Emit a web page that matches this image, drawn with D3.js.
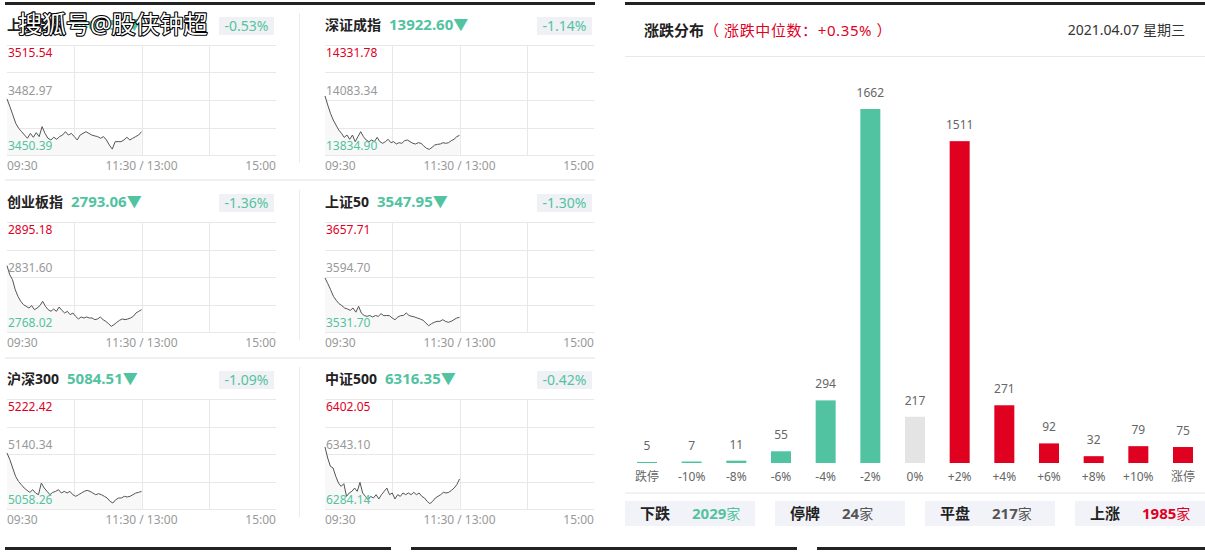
<!DOCTYPE html>
<html>
<head>
<meta charset="utf-8">
<script src="https://cdn.jsdelivr.net/npm/d3@7"></script>
<style>
body{margin:0;background:#fff;}
svg{display:block;font-family:"Microsoft YaHei","Noto Sans","Noto Sans CJK SC",sans-serif;}
</style>
</head>
<body>
<div class="canvas"></div>
<script>
// MOCK DATA - index cards
const indexNames = ["上证指数","深证成指","创业板指","上证50","沪深300","中证500"];
const lastPrices = ["3464.51","13922.60","2793.06","3547.95","5084.51","6316.35"];
const changePcts = ["-0.53%","-1.14%","-1.36%","-1.30%","-1.09%","-0.42%"];
const highLabels = [3515.54, 14331.78, 2895.18, 3657.71, 5222.42, 6402.05];
const prevCloses = [3482.97, 14083.34, 2831.60, 3594.70, 5140.34, 6343.10];
const lowLabels  = [3450.39, 13834.90, 2768.02, 3531.70, 5058.26, 6284.14];
const timeLabels = ["09:30","11:30 / 13:00","15:00"];

// morning session (09:30 -> 11:30)
const shSeries = [3483.6,3479.0,3474.1,3469.1,3466.2,3464.2,3462.2,3460.3,3463.2,3460.9,3463.6,3461.3,3467.2,3463.2,3460.3,3459.3,3460.9,3459.7,3461.3,3462.2,3464.2,3462.2,3463.2,3461.3,3459.3,3462.2,3463.2,3464.2,3463.2,3462.2,3461.7,3461.3,3460.3,3461.3,3459.3,3456.3,3453.9,3458.3,3458.3,3458.3,3459.3,3460.9,3459.3,3460.3,3461.3,3462.2,3464.2];
const szSeries = [14101.4,14060.8,14023.1,13993.0,13970.4,13947.8,13932.8,13914.7,13925.2,13905.7,13925.2,13895.1,13917.7,13940.3,13917.7,13902.6,13895.1,13902.6,13895.1,13914.7,13895.1,13887.6,13895.1,13905.7,13890.6,13895.1,13884.6,13890.6,13887.6,13899.6,13902.6,13895.1,13887.6,13884.6,13890.6,13887.6,13875.5,13865.0,13860.5,13869.5,13880.1,13883.1,13884.6,13890.6,13887.6,13890.6,13899.6,13905.7,13917.7,13923.7];
const cybSeries = [2844.7,2834.3,2828.5,2816.9,2809.2,2803.5,2799.6,2797.7,2795.8,2798.5,2793.8,2795.8,2798.5,2803.5,2797.7,2793.8,2791.9,2794.6,2791.9,2796.9,2793.1,2790.0,2791.9,2788.1,2790.0,2786.1,2783.1,2785.4,2784.2,2785.4,2784.2,2784.2,2782.3,2783.1,2785.4,2782.3,2780.3,2777.6,2774.6,2776.5,2779.2,2781.5,2783.1,2782.3,2783.1,2784.2,2786.1,2790.0,2791.9,2793.8];
const sz50Series = [3593.6,3587.1,3580.2,3572.6,3568.0,3564.2,3561.9,3559.2,3558.1,3556.5,3559.2,3554.4,3561.1,3553.2,3550.6,3549.6,3550.6,3548.9,3550.6,3549.6,3552.7,3550.4,3550.6,3550.4,3547.7,3545.8,3548.9,3550.4,3550.6,3553.5,3550.6,3549.6,3548.9,3547.7,3546.6,3545.1,3542.0,3538.9,3541.2,3542.8,3543.9,3543.9,3545.8,3543.9,3542.8,3543.9,3545.8,3547.7,3548.5];
const hs300Series = [5141.8,5131.9,5119.4,5107.0,5099.5,5094.6,5089.6,5086.1,5083.1,5087.1,5082.1,5079.6,5097.0,5089.6,5084.6,5079.6,5083.1,5084.6,5087.1,5082.1,5084.6,5082.1,5084.6,5079.6,5077.2,5079.6,5082.1,5084.6,5086.1,5084.6,5082.1,5079.6,5081.1,5079.6,5077.2,5074.7,5069.7,5067.2,5072.2,5074.7,5074.7,5077.2,5076.2,5077.2,5079.6,5082.1,5083.1,5084.6];
const zz500Series = [6350.6,6338.8,6329.9,6328.1,6319.2,6312.0,6308.4,6311.3,6297.7,6301.3,6303.1,6306.6,6303.1,6312.7,6301.3,6297.7,6294.1,6297.7,6295.9,6299.5,6294.9,6299.5,6303.1,6306.6,6299.5,6301.3,6294.9,6299.5,6297.7,6301.3,6299.5,6301.3,6299.5,6302.0,6299.5,6301.3,6297.7,6295.9,6292.3,6289.9,6292.3,6295.9,6297.7,6299.5,6302.0,6301.3,6302.0,6304.1,6306.6,6310.2,6316.3];
const allSeries = [shSeries, szSeries, cybSeries, sz50Series, hs300Series, zz500Series];

// MOCK DATA - rise/fall distribution
const distCats = ["跌停","-10%","-8%","-6%","-4%","-2%","0%","+2%","+4%","+6%","+8%","+10%","涨停"];
const distValues = [5,7,11,55,294,1662,217,1511,271,92,32,79,75];
const summaryLabels = ["下跌","停牌","平盘","上涨"];
const summaryValues = ["2029","24","217","1985"];
const medianText = "（ 涨跌中位数：+0.35% ）";
const dateText = "2021.04.07 星期三";

const GREEN = "#52c3a1", RED = "#e0001f", GREY_BAR = "#e4e4e4";

const svg = d3.select(".canvas")
.append("svg")
.attr("width", 1205)
.attr("height", 552);

// black rules top / bottom
[[5,595],[625,1205]].forEach(s=>{
    svg.append("rect").attr("x",s[0]).attr("y",2).attr("width",s[1]-s[0]).attr("height",3).attr("fill","#222");
});
[[5,391],[411,797],[817,1205]].forEach(s=>{
    svg.append("rect").attr("x",s[0]).attr("y",547).attr("width",s[1]-s[0]).attr("height",3).attr("fill","#222");
});

// LEFT: six mini index charts
const colX = [7, 325];
const rowTop = [45, 222, 399];
const cw = 269, ch = 110;

// row separators
[180, 358].forEach(yy=>{
    svg.append("line").attr("x1",5).attr("x2",595).attr("y1",yy).attr("y2",yy)
    .attr("stroke","#f0f0f0").attr("stroke-width",2);
});

rowTop.forEach(t=>{
    svg.append("line").attr("x1",299.5).attr("x2",299.5).attr("y1",t-32).attr("y2",t+118)
    .attr("stroke","#ececec");
});

const miniChart = (i) => {
    const x0 = colX[i % 2], top = rowTop[Math.floor(i / 2)];
    const g = svg.append("g");
    const x = d3.scaleLinear().domain([0, 240]).range([x0, x0 + cw]);
    const y = d3.scaleLinear().domain([lowLabels[i], highLabels[i]]).range([top + ch, top]);

    const gridVals = d3.range(5).map(k => lowLabels[i] + (highLabels[i] - lowLabels[i]) * k / 4);
    g.selectAll(".hg").data(gridVals).enter().append("line")
        .attr("x1", x(0)).attr("x2", x(240))
        .attr("y1", d => Math.round(y(d)) + 0.5).attr("y2", d => Math.round(y(d)) + 0.5)
        .attr("stroke", "#e8e8e8");
    g.selectAll(".vg").data([60, 120, 180]).enter().append("line")
        .attr("x1", d => Math.round(x(d)) + 0.5).attr("x2", d => Math.round(x(d)) + 0.5)
        .attr("y1", top).attr("y2", top + ch)
        .attr("stroke", "#e8e8e8");

    const series = allSeries[i];
    const tx = d => x(d * 120 / (series.length - 1));
    g.append("path").datum(series)
        .attr("d", d3.area().x((d, k) => tx(k)).y0(top + ch).y1(d => y(d)))
        .attr("fill", "#f8f8f8");
    g.append("path").datum(series)
        .attr("d", d3.line().x((d, k) => tx(k)).y(d => y(d)))
        .attr("fill", "none").attr("stroke", "#555").attr("stroke-width", 1);

    // price labels
    g.append("text").attr("x", x0 + 1).attr("y", y(highLabels[i]) + 12)
        .attr("font-size", 12).attr("fill", RED).text(highLabels[i].toFixed(2));
    g.append("text").attr("x", x0 + 1).attr("y", y(prevCloses[i]) - 5)
        .attr("font-size", 12).attr("fill", "#999").text(prevCloses[i].toFixed(2));
    g.append("text").attr("x", x0 + 1).attr("y", y(lowLabels[i]) - 5)
        .attr("font-size", 12).attr("fill", GREEN).text(lowLabels[i].toFixed(2));

    // time labels
    g.selectAll(".tl").data(timeLabels).enter().append("text")
        .attr("x", (d, k) => x(k * 120))
        .attr("y", top + ch + 15)
        .attr("text-anchor", (d, k) => ["start", "middle", "end"][k])
        .attr("font-size", 12).attr("fill", "#999").text(d => d);

    // header
    const head = g.append("text").attr("x", x0).attr("y", top - 15).attr("font-size", 14);
    head.append("tspan").attr("font-weight", "bold").attr("fill", "#222").text(indexNames[i]);
    head.append("tspan").attr("dx", 8).attr("font-weight", "bold").attr("font-size", 15)
        .attr("fill", GREEN).text(lastPrices[i] + "▼");

    const bx = x0 + cw - 57;
    g.append("rect").attr("x", bx).attr("y", top - 28).attr("width", 55).attr("height", 18)
        .attr("fill", "#f0f1f4");
    g.append("text").attr("x", bx + 27.5).attr("y", top - 14).attr("text-anchor", "middle")
        .attr("font-size", 14).attr("fill", GREEN).text(changePcts[i]);
};
indexNames.forEach((d, i) => miniChart(i));

// watermark
svg.append("text").attr("x", 18).attr("y", 33)
    .attr("font-size", 24).attr("fill", "#fff").attr("stroke", "#000").attr("stroke-width", 2.2)
    .attr("paint-order", "stroke").attr("stroke-linejoin", "round")
    .text("搜狐号@股侠钟超");

// RIGHT: rise/fall distribution
const title = svg.append("text").attr("x", 644).attr("y", 36).attr("font-size", 15);
title.append("tspan").attr("font-weight", "bold").attr("fill", "#222").text("涨跌分布");
title.append("tspan").attr("fill", RED).attr("letter-spacing", 0.6).text(medianText);
svg.append("text").attr("x", 1185).attr("y", 35).attr("text-anchor", "end")
    .attr("font-size", 14).attr("fill", "#333").text(dateText);
svg.append("line").attr("x1", 625).attr("x2", 1205).attr("y1", 56.5).attr("y2", 56.5).attr("stroke", "#e8e8e8");

const xScale = d3.scalePoint().domain(distCats).range([647, 1183]);
const yScale = d3.scaleLinear().domain([0, 1662]).range([463, 109]);
const barW = 20;
const barColor = (i) => i < 6 ? GREEN : (i === 6 ? GREY_BAR : RED);

svg.selectAll(".bar").data(distValues).enter().append("rect")
    .attr("x", (d, i) => xScale(distCats[i]) - barW / 2)
    .attr("y", d => Math.min(yScale(d), 462))
    .attr("width", barW)
    .attr("height", d => Math.max(463 - yScale(d), 1))
    .attr("fill", (d, i) => barColor(i));

svg.selectAll(".val").data(distValues).enter().append("text")
    .attr("x", (d, i) => xScale(distCats[i]))
    .attr("y", d => Math.min(yScale(d), 462) - 12)
    .attr("text-anchor", "middle").attr("font-size", 12).attr("fill", "#666")
    .text(d => d);

svg.selectAll(".cat").data(distCats).enter().append("text")
    .attr("x", d => xScale(d)).attr("y", 481)
    .attr("text-anchor", "middle").attr("font-size", 12).attr("fill", "#666")
    .text(d => d);

svg.append("line").attr("x1", 625).attr("x2", 1205).attr("y1", 493).attr("y2", 493).attr("stroke", "#e6e6e6");

const sumColors = [GREEN, "#555", "#555", RED];
summaryLabels.forEach((lab, i) => {
    const bx = 625 + i * 150;
    svg.append("rect").attr("x", bx).attr("y", 501).attr("width", 130).attr("height", 25).attr("fill", "#f2f3f8");
    svg.append("text").attr("x", bx + 15).attr("y", 519).attr("font-size", 15)
        .attr("font-weight", "bold").attr("fill", "#222").text(lab);
    const t = svg.append("text").attr("x", bx + 67).attr("y", 519).attr("fill", sumColors[i]);
    t.append("tspan").attr("font-size", 15).attr("font-weight", "bold").text(summaryValues[i]);
    t.append("tspan").attr("font-size", 14).text("家");
});
</script>
</body>
</html>
